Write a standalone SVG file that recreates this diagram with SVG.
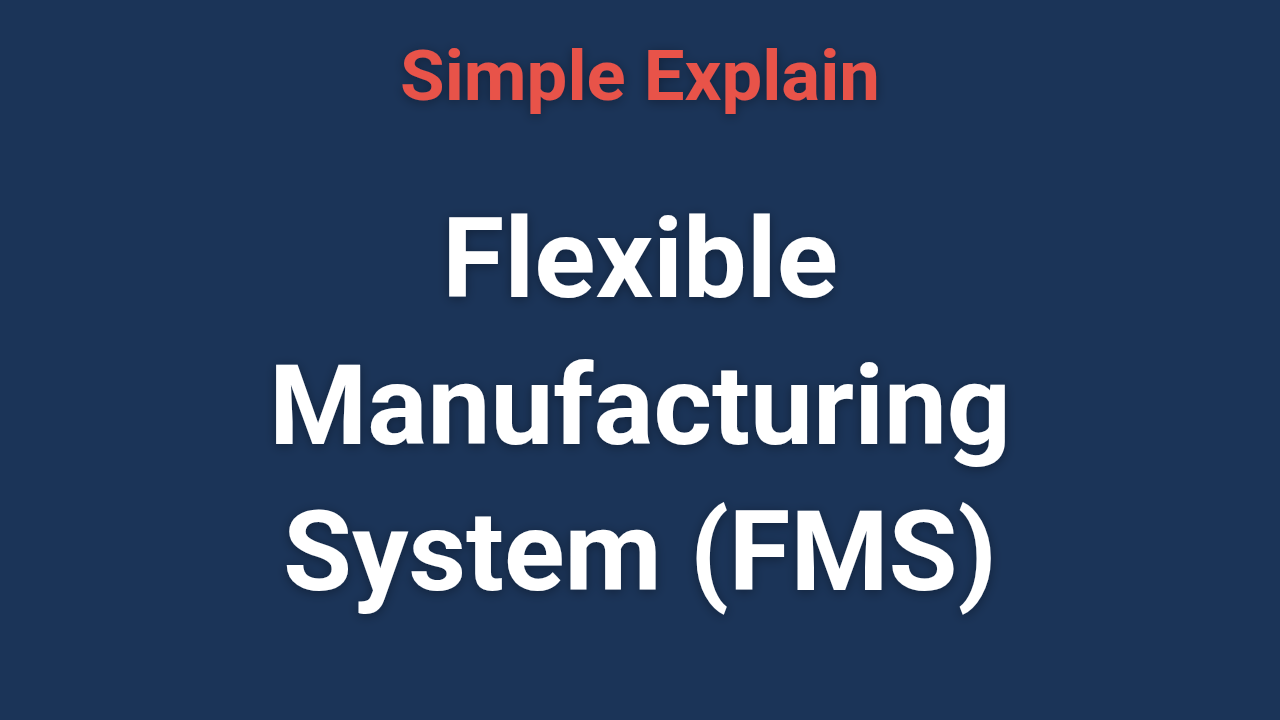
<svg xmlns="http://www.w3.org/2000/svg" width="1280" height="720" viewBox="0 0 1280 720">
<defs>
<style>
.t{font-family:Roboto,"Liberation Sans",sans-serif;font-weight:bold;text-anchor:middle}
.w{fill:#ffffff;font-size:112px}
.r{fill:#e8534a;font-size:70px}
</style>
<filter id="sh" x="-10%" y="-20%" width="120%" height="140%"><feDropShadow dx="0" dy="2" stdDeviation="6" flood-color="#000" flood-opacity="0.35"/></filter>
</defs>
<rect width="1280" height="720" fill="#1b3458"/>
<g filter="url(#sh)">
<text class="t r" x="640" y="100" textLength="480" lengthAdjust="spacingAndGlyphs">Simple Explain</text>
<text class="t w" x="640" y="297" textLength="396" lengthAdjust="spacingAndGlyphs">Flexible</text>
<text class="t w" x="640" y="444" textLength="742" lengthAdjust="spacingAndGlyphs">Manufacturing</text>
<text class="t w" x="640" y="590" textLength="714" lengthAdjust="spacingAndGlyphs">System (FMS)</text>
</g>
</svg>
